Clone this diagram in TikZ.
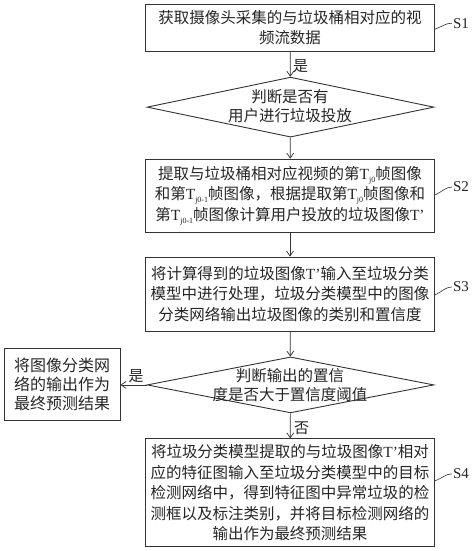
\documentclass[tikz,border=0pt]{standalone}
\usepackage{fontspec}
\setmainfont{Liberation Serif}
\newfontfamily\cjk{Noto Sans CJK SC}
\newcommand\latn[1]{{\rmfamily #1}}
\newcommand\subj[1]{\raisebox{-0.35ex}{\rmfamily\fontsize{8}{8}\selectfont #1}}
\usetikzlibrary{shapes.geometric,arrows.meta}
\begin{document}
\begin{tikzpicture}[x=1pt,y=1pt,
  >={Straight Barb[length=5pt,width=7pt]},
  every path/.style={draw=black!80},
  box/.style={draw=black!80, line width=0.9pt, minimum width=290pt, align=center,
    font=\cjk\fontsize{15.5}{20.5}\selectfont, inner sep=0pt, text=black!85},
  dia/.style={draw=black!80, diamond, line width=0.9pt, minimum width=287pt, inner sep=0pt, shape aspect=5},
  txt/.style={align=center, font=\cjk\fontsize{15.5}{19}\selectfont, text=black!85},
  lbl/.style={font=\cjk\fontsize{15}{18}\selectfont, inner sep=1pt, text=black!85},
  slab/.style={font=\fontsize{15}{18}\selectfont, inner sep=1pt, text=black!85},
  conn/.style={->, line width=0.7pt},
  lead/.style={line width=0.6pt}]
\useasboundingbox (0,0) rectangle (474,-551);
\fill[white] (0,0) rectangle (474,-551);

\node[box, minimum height=47pt] (b1) at (290,-27.5) {获取摄像头采集的与垃圾桶相对应的视\\频流数据};
\node[dia, minimum height=60pt] (d1) at (290.5,-107) {};
\node[txt] (t1) at (290,-106) {判断是否有\\用户进行垃圾投放};
\node[box, minimum height=73pt] (b2) at (290,-195.5) {提取与垃圾桶相对应视频的第\latn{T}\subj{j0}帧图像\\和第\latn{T}\subj{j0-1}帧图像，根据提取第\latn{T}\subj{j0}帧图像和\\第\latn{T}\subj{j0-1}帧图像计算用户投放的垃圾图像\latn{T’}};
\node[box, minimum height=74pt] (b3) at (290,-294) {将计算得到的垃圾图像\latn{T’}输入至垃圾分类\\模型中进行处理，垃圾分类模型中的图像\\分类网络输出垃圾图像的类别和置信度};
\node[dia, minimum height=56pt] (d2) at (290.5,-385) {};
\node[txt] (t2) at (290,-385) {判断输出的置信\\度是否大于置信度阈值};
\node[box, minimum height=108pt] (b4) at (290,-493) {将垃圾分类模型提取的与垃圾图像\latn{T’}相对\\应的特征图输入至垃圾分类模型中的目标\\检测网络中，得到特征图中异常垃圾的检\\测框以及标注类别，并将目标检测网络的\\输出作为最终预测结果};
\node[box, minimum width=116pt, minimum height=73pt, font=\cjk\fontsize{16}{19.5}\selectfont] (lb) at (62,-384.5) {将图像分类网\\络的输出作为\\最终预测结果};

\draw[conn] (b1) -- (d1);
\draw[conn] (d1) -- (b2);
\draw[conn] (b2) -- (b3);
\draw[conn] (b3) -- (d2);
\draw[conn] (d2) -- (b4);
\draw[conn] (d2.west) -- (lb.east |- d2.west);

\node[lbl, anchor=west] (y1) at (292,-66) {是};
\node[lbl] (y2) at (136,-376) {是};
\node[lbl, anchor=west] (n1) at (293,-428) {否};

\node[slab, anchor=west] (s1) at (452,-23) {S1};
\node[slab, anchor=west] (s2) at (452,-187) {S2};
\node[slab, anchor=west] (s3) at (452,-287) {S3};
\node[slab, anchor=west] (s4) at (452,-474) {S4};
\coordinate (c1) at (435,-29);
\coordinate (c2) at (435,-195);
\coordinate (c3) at (435,-295);
\coordinate (c4) at (435,-481);
\draw[lead] (c1) .. controls (443,-26) and (446,-23) .. (s1.west);
\draw[lead] (c2) .. controls (443,-191) and (446,-187) .. (s2.west);
\draw[lead] (c3) .. controls (443,-291) and (446,-287) .. (s3.west);
\draw[lead] (c4) .. controls (443,-478) and (446,-474) .. (s4.west);
\end{tikzpicture}
\end{document}
